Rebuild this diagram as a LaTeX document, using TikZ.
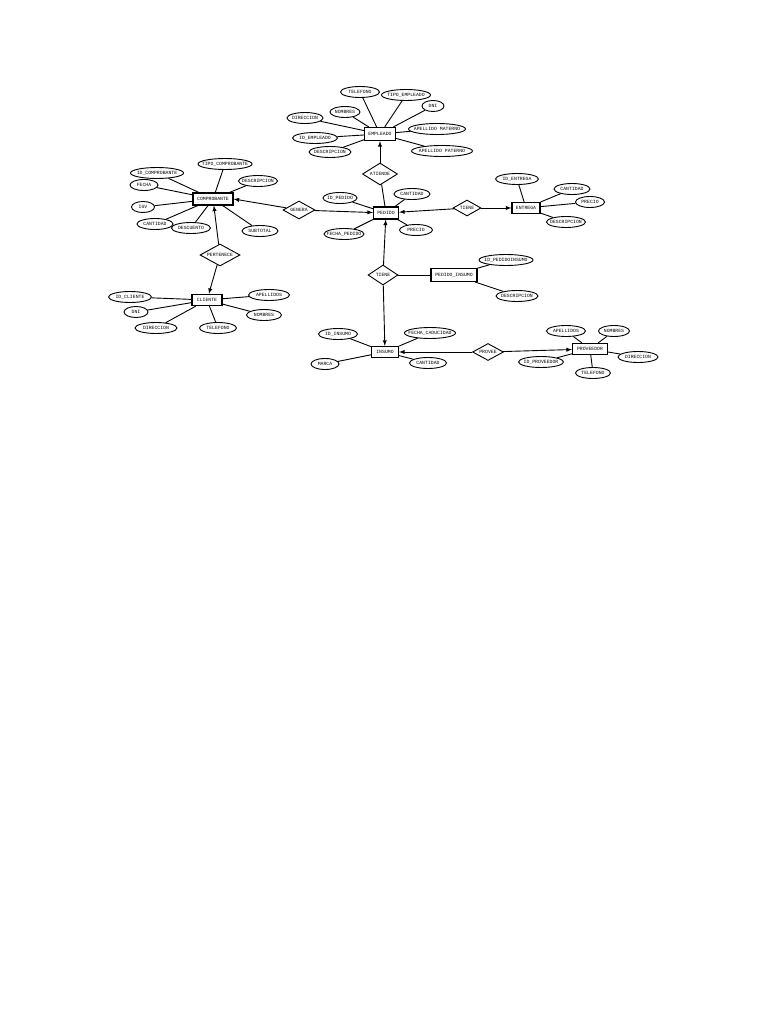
\documentclass[tikz,border=0pt]{standalone}
\usepackage{fontspec}
\setmonofont{Liberation Mono}
\usetikzlibrary{shapes.geometric}

\begin{document}
\begin{tikzpicture}[x=1pt,y=-1pt,line width=0.9pt,
 every node/.style={font=\ttfamily\fontsize{4.8}{5}\selectfont,inner sep=0pt,
 execute at begin node={\hbox to 0pt\bgroup\hss},execute at end node={\hss\egroup}},
 entity/.style={draw,line width=1.2pt,fill=white,minimum height=12},
 attr/.style={draw,ellipse,fill=white,minimum height=11},
 rel/.style={draw,diamond,fill=white}]

  \useasboundingbox (0,0) rectangle (768,1024);

  % entidades
  \node[entity,minimum width=31,minimum height=13] (emp) at (380,134) {EMPLEADO};
  \node[entity,minimum width=25] (ped) at (386,213) {PEDIDO};
  \node[entity,minimum width=40] (comp) at (213,199) {COMPROBANTE};
  \node[entity,minimum width=30,minimum height=11] (cli) at (207,300) {CLIENTE};
  \node[entity,minimum width=28,minimum height=11] (ent) at (526,208) {ENTREGA};
  \node[entity,minimum width=46,minimum height=13] (pins) at (454,275) {PEDIDO\_INSUMO};
  \node[entity,minimum width=27,minimum height=11] (ins) at (385,352) {INSUMO};
  \node[entity,minimum width=35,minimum height=11] (prov) at (590,349) {PROVEEDOR};

  % relaciones
  \node[rel,minimum width=35,minimum height=22] (atiende) at (380,174) {ATIENDE};
  \node[rel,minimum width=32,minimum height=18] (genera) at (299,210) {GENERA};
  \node[rel,minimum width=28,minimum height=16] (tiene1) at (467,208) {TIENE};
  \node[rel,minimum width=40,minimum height=22] (pert) at (220,255) {PERTENECE};
  \node[rel,minimum width=30,minimum height=20] (tiene2) at (383,275) {TIENE};
  \node[rel,minimum width=31,minimum height=17] (provee) at (488,352) {PROVEE};

  \draw[-latex] (atiende) -- (emp);
  \draw (atiende) -- (ped);
  \draw[-latex] (genera) -- (ped);
  \draw[-latex] (genera) -- (comp.east);
  \draw[-latex] (tiene1) -- (ped);
  \draw[-latex] (tiene1) -- (ent);
  \draw[-latex] (pert) -- (comp);
  \draw[-latex] (pert) -- (cli);
  \draw[-latex] (tiene2) -- (ped);
  \draw[-latex] (tiene2) -- (ins);
  \draw (tiene2) -- (pins);
  \draw[-latex] (provee) -- (ins);
  \draw[-latex] (provee) -- (prov);

  % atributos: nombre/x/y/ancho/entidad/texto
  \foreach \n/\x/\y/\w/\e/\t in {
   emtel/360/92/39/emp/TELEFONO, emtip/406/95/49/emp/TIPO\_EMPLEADO,
   emdni/433/106/22/emp/DNI, emnom/345/112/30/emp/NOMBRES,
   emdir/305/118/36/emp/DIRECCION, emid/315/138/45/emp/ID\_EMPLEADO,
   emmat/437/129/57/emp/APELLIDO MATERNO, empat/442/151/61/emp/APELLIDO PATERNO,
   emdes/330/152/42/emp/DESCRIPCION,
   peid/340/198/34/ped/ID\_PEDIDO, pecan/412/194/36/ped/CANTIDAD,
   pefec/344/234/40/ped/FECHA\_PEDIDO, pepre/416/230/33/ped/PRECIO,
   coid/157/173/53/comp/ID\_COMPROBANTE, cotip/225/164/54/comp/TIPO\_COMPROBANTE,
   cofec/144/185/28/comp/FECHA, codes/258/181/39/comp/DESCRIPCION,
   coigv/143/207/23/comp/IGV, cocan/155/224/36/comp/CANTIDAD,
   codto/191/228/39/comp/DESCUENTO, cosub/260/231/36/comp/SUBTOTAL,
   clid/130/297/43/cli/ID\_CLIENTE, cldni/136/312/24/cli/DNI,
   cldir/156/328/42/cli/DIRECCION, cltel/218/328/37/cli/TELEFONO,
   clape/269/295/41/cli/APELLIDOS, clnom/264/315/35/cli/NOMBRES,
   enid/517/179/43/ent/ID\_ENTREGA, encan/572/189/36/ent/CANTIDAD,
   enpre/590/202/29/ent/PRECIO, endes/566/222/39/ent/DESCRIPCION,
   piid/506/260/54/pins/ID\_PEDIDOINSUMO, pides/517/296/42/pins/DESCRIPCION,
   inid/338/334/39/ins/ID\_INSUMO, infec/430/333/51/ins/FECHA\_CADUCIDAD,
   inmar/325/364/28/ins/MARCA, incan/428/363/37/ins/CANTIDAD,
   prape/566/331/39/prov/APELLIDOS, prnom/614/331/31/prov/NOMBRES,
   prdir/638/357/40/prov/DIRECCION, prtel/593/373/35/prov/TELEFONO,
   prid/541/362/45/prov/ID\_PROVEEDOR}
  {\node[attr,minimum width=\w] (\n) at (\x,\y) {\t};
   \draw (\n) -- (\e);}

\end{tikzpicture}
\end{document}
